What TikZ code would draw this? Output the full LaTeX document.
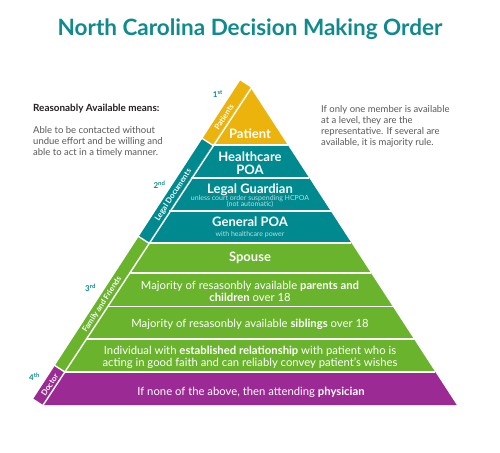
\documentclass[tikz,border=0pt]{standalone}
\usepackage{fontspec}
\setmainfont{Lato}
\definecolor{yc}{HTML}{EBB30B}
\definecolor{tc}{HTML}{008A8F}
\definecolor{gc}{HTML}{6AB42D}
\definecolor{pc}{HTML}{9C2A94}
\definecolor{titlec}{HTML}{0F8A8D}
\definecolor{notec}{HTML}{58595B}
\definecolor{darkc}{HTML}{231F20}
\begin{document}
\begin{tikzpicture}[x=1pt,y=-1pt]
\tikzset{
  sep/.style={white, line width=1.4pt},
  bigsep/.style={white, line width=1.8pt},
  head/.style={text=white, font=\fontsize{13}{15}\selectfont\bfseries, anchor=base},
  sub/.style={text=white!72!tc, font=\fontsize{7}{8}\selectfont, anchor=base},
  bodytxt/.style={text=white, font=\fontsize{11.3}{13}\selectfont, anchor=base},
  striplabel/.style={text=white, font=\fontsize{7.8}{9}\selectfont\bfseries, rotate=57, anchor=center, inner sep=0pt},
  rank/.style={text=titlec, font=\fontsize{8}{9}\selectfont\bfseries, anchor=base west, inner sep=0pt},
  note/.style={text=notec, font=\fontsize{9.5}{11}\selectfont, anchor=base west, inner sep=0pt},
}
\useasboundingbox[fill=white] (0,0) rectangle (500,452);

% title
\node[text=titlec, font=\fontsize{22.5}{25}\selectfont\bfseries, anchor=base] (title) at (250,36) {North Carolina Decision Making Order};

% main bands
\fill[yc] (250,87) -- (287.7,145) -- (212.3,145) -- cycle;
\fill[tc] (212.3,145) -- (287.7,145) -- (351.4,243) -- (148.6,243) -- cycle;
\fill[gc] (148.6,243) -- (351.4,243) -- (435.25,372) -- (64.75,372) -- cycle;
\fill[pc] (64.75,372) -- (435.25,372) -- (456.7,405) -- (43.3,405) -- cycle;

% side strips
\fill[yc] (250,87) -- (240.16,80.6) -- (202.46,138.6) -- (212.3,145) -- cycle;
\fill[tc] (212.3,145) -- (202.46,138.6) -- (138.76,236.6) -- (148.6,243) -- cycle;
\fill[gc] (148.6,243) -- (138.76,236.6) -- (54.91,365.6) -- (64.75,372) -- cycle;
\fill[pc] (64.75,372) -- (54.91,365.6) -- (33.46,398.6) -- (43.3,405) -- cycle;

% separators
\draw[bigsep] (212.3,145) -- (287.7,145);
\draw[sep] (190.85,178) -- (309.15,178);
\draw[sep] (169.4,211) -- (330.6,211);
\draw[bigsep] (148.6,243) -- (351.4,243);
\draw[sep] (129.1,273) -- (370.9,273);
\draw[sep] (107.3,306.5) -- (392.7,306.5);
\draw[sep] (86.2,339) -- (413.8,339);
\draw[bigsep] (64.75,372) -- (435.25,372);
\draw[sep] (251,88.5) -- (42.5,406);
\draw[sep] (213.3,145.6) -- (200.8,137.5);
\draw[sep] (149.6,243.6) -- (137.1,235.5);
\draw[sep] (65.75,372.6) -- (53.2,364.5);

% strip labels
\node[striplabel] (lp) at (224,117) {Patients};
\node[striplabel] (ll) at (173.3,195) {Legal Documents};
\node[striplabel] (lf) at (102.1,304.5) {Family and Friends};
\node[striplabel] (ld) at (49.8,385) {Doctor};

% ranks
\node[rank] (r1) at (212.7,97.5) {1\textsuperscript{st}};
\node[rank] (r2) at (153.3,188.3) {2\textsuperscript{nd}};
\node[rank] (r3) at (85,291.7) {3\textsuperscript{rd}};
\node[rank] (r4) at (29,380.7) {4\textsuperscript{th}};

% band texts
\node[head] (patient) at (250,138.3) {Patient};
\node[head] (hc1) at (250,161.7) {Healthcare};
\node[head] (hc2) at (250,174.3) {POA};
\node[head] (lg) at (250,193.3) {Legal Guardian};
\node[sub] (lg1) at (250,200.9) {unless court order suspending HCPOA};
\node[sub] (lg2) at (250,206.9) {(not automatic)};
\node[head] (gp) at (250,226.7) {General POA};
\node[sub] (gp1) at (250,236.9) {with healthcare power};
\node[head] (sp) at (250,261.7) {Spouse};
\node[bodytxt] (pc1) at (250,289.3) {Majority of resasonbly available \textbf{parents and}};
\node[bodytxt] (pc2) at (250,301.3) {\textbf{children} over 18};
\node[bodytxt] (sb) at (250,327.3) {Majority of resasonbly available \textbf{siblings} over 18};
\node[bodytxt] (er1) at (250,354) {Individual with \textbf{established relationship} with patient who is};
\node[bodytxt] (er2) at (250,366.3) {acting in good faith and can reliably convey patient’s wishes};
\node[bodytxt] (ph) at (251,395.7) {If none of the above, then attending \textbf{physician}};

% left note
\node[note, text=darkc, font=\fontsize{9.9}{11}\selectfont\bfseries] (ra) at (33,111.7) {Reasonably Available means:};
\node[note] (n1) at (33,133.3) {Able to be contacted without};
\node[note] (n2) at (33,144.3) {undue effort and be willing and};
\node[note] (n3) at (33,155) {able to act in a timely manner.};

% right note
\node[note] (m1) at (321,112.3) {If only one member is available};
\node[note] (m2) at (321,123.3) {at a level, they are the};
\node[note] (m3) at (321,134.3) {representative. If several are};
\node[note] (m4) at (321,145.3) {available, it is majority rule.};
\end{tikzpicture}
\end{document}
